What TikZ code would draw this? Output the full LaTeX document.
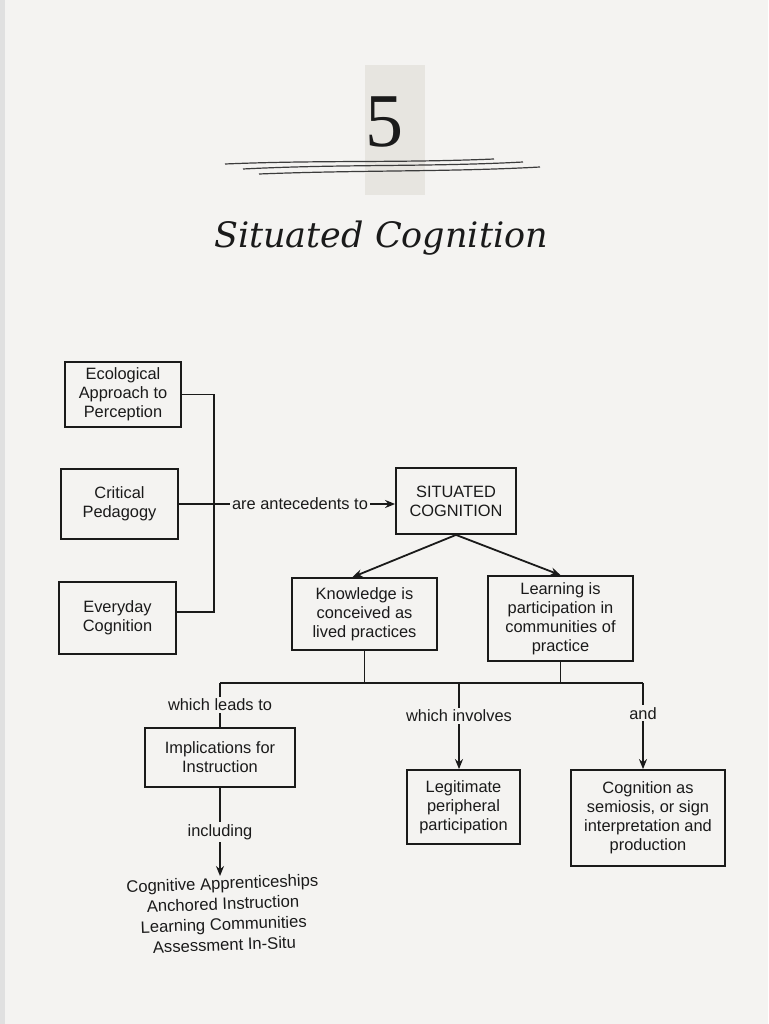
\documentclass[tikz,border=0pt]{standalone}
\usepackage{fontspec}
\newfontfamily\hv{Liberation Sans}
\newfontfamily\numfont{Liberation Serif}
\newfontfamily\titlefont{DejaVu Serif}
\usetikzlibrary{arrows.meta,calc}
\definecolor{bg}{HTML}{F4F3F1}
\definecolor{ink}{HTML}{1A1A1A}
\definecolor{chapbg}{HTML}{E7E5E0}
\begin{document}
\begin{tikzpicture}[x=1pt,y=-1pt,
  box/.style={draw=ink,line width=1.8pt,align=center,inner sep=0pt,
    font=\hv\fontsize{16.4}{19}\selectfont,text=ink},
  lbl/.style={fill=bg,inner sep=2pt,font=\hv\fontsize{16.4}{19}\selectfont,text=ink},
  con/.style={draw=ink,line width=1.8pt},
  arr/.style={con,-{Stealth[length=10pt,width=8pt]}},
  wave/.style={draw=ink!85,line width=1.2pt}]
\fill[bg] (0,0) rectangle (768,1024);
\useasboundingbox (0,0) rectangle (768,1024);
\fill[black!12] (0,0) rectangle (5,1024);
% chapter heading
\fill[chapbg] (365,65) rectangle (425,195);
\node[font=\numfont\fontsize{76}{76}\selectfont,text=ink] (num) at (384,122) {5};
\draw[wave] (225,164) .. controls (320,160) and (400,163) .. (494,159);
\draw[wave] (243,169) .. controls (340,164) and (430,167) .. (523,162);
\draw[wave] (259,174) .. controls (360,170) and (450,172) .. (540,167);
\node[font=\titlefont\itshape\fontsize{35}{35}\selectfont,text=ink] (title) at (381,238) {Situated Cognition};
% boxes
\node[box,minimum width=116pt,minimum height=65pt] (eco) at (123,394.5) {Ecological\\Approach to\\Perception};
\node[box,minimum width=117pt,minimum height=70pt] (crit) at (119.5,504) {Critical\\Pedagogy};
\node[box,minimum width=117pt,minimum height=72pt] (every) at (117.5,618) {Everyday\\Cognition};
\node[box,minimum width=120pt,minimum height=66pt] (sc) at (456,501) {SITUATED\\COGNITION};
\node[box,minimum width=145pt,minimum height=72pt] (know) at (364.5,614) {Knowledge is\\conceived as\\lived practices};
\node[box,minimum width=145pt,minimum height=85pt] (learn) at (560.5,618.5) {Learning is\\participation in\\communities of\\practice};
\node[box,minimum width=150pt,minimum height=59pt] (impl) at (220,757.5) {Implications for\\Instruction};
\node[box,minimum width=113pt,minimum height=74pt] (legit) at (463.5,807) {Legitimate\\peripheral\\participation};
\node[box,minimum width=154pt,minimum height=96pt] (cogn) at (648,818) {Cognition as\\semiosis, or sign\\interpretation and\\production};
\node[anchor=north,align=center,inner sep=1pt,rotate=2,font=\hv\fontsize{16.6}{20.5}\selectfont,text=ink] (list) at (222,876)
  {Cognitive Apprenticeships\\Anchored Instruction\\Learning Communities\\Assessment In-Situ};
% connectors
\draw[con] (eco.east) -- ++(32,0) |- ($(every.east)+(0,-6)$);
\draw[arr] (crit.east) -- node[lbl,pos=0.56]{are antecedents to} (crit.east -| sc.west);
\draw[arr] (sc.south) -- ($(know.north)+(-12,0)$);
\draw[arr] (sc.south) -- (learn.north);
\coordinate (hl) at (220,683);
\coordinate (hm) at (459,683);
\coordinate (hr) at (643,683);
\draw[con] (know.south) -- (know.south |- hl);
\draw[con] (learn.south) -- (learn.south |- hl);
\draw[con] (hl) -- (hr);
\draw[con] (hl) -- node[lbl,pos=0.5]{which leads to} (hl |- impl.north);
\draw[arr] (hm) -- node[lbl,pos=0.38]{which involves} (hm |- legit.north);
\draw[arr] (hr) -- node[lbl,pos=0.35]{and} (hr |- cogn.north);
\draw[arr] (impl.south) -- node[lbl,pos=0.5]{including} (impl.south |- list.north);
\end{tikzpicture}
\end{document}
